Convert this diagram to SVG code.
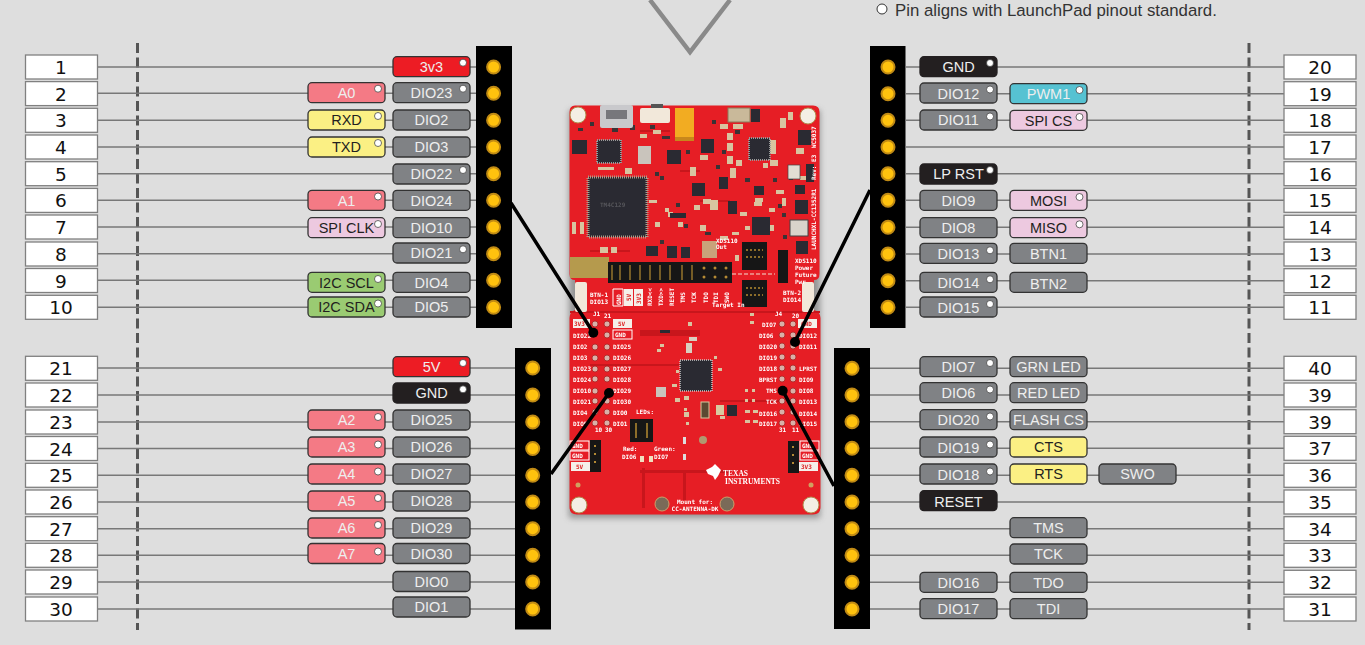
<svg xmlns="http://www.w3.org/2000/svg" width="1365" height="645" viewBox="0 0 1365 645">
<style>
.w{stroke:#787878;stroke-width:1.5;fill:none}
.dash{stroke:#555;stroke-width:3;stroke-dasharray:10 4.5;fill:none}
.lead{stroke:#000;stroke-width:3.5;fill:none}
.dot{fill:#000}
.num rect{fill:#fff;stroke:#808080;stroke-width:1.3}
.num text{font-family:"DejaVu Sans",sans-serif;font-size:18.5px;fill:#111;text-anchor:middle}
.strip{fill:#000}
.po{fill:#ffc20e;stroke:#c08a14;stroke-width:2}
.p rect{stroke:#333;stroke-width:1.3}
.p text{font-family:"Liberation Sans",Arial,sans-serif;font-size:14.5px;text-anchor:middle;fill:#eee}
.p circle{fill:#fff;stroke:#333;stroke-width:.7}
.red rect{fill:#ed1c24}
.blk rect{fill:#231f20;stroke:#231f20}
.gry rect{fill:#808285}
.ana rect{fill:#f47a85}
.yel rect{fill:#fbf084}
.pnk rect{fill:#edc9e0}
.grn rect{fill:#9acb72}
.cyn rect{fill:#56c2d2}
.yel text,.pnk text,.grn text{fill:#231f20}
.s{font-family:"DejaVu Sans Mono","Liberation Mono",monospace;font-size:6px;font-weight:bold;fill:#fff}
.sm{text-anchor:middle}
.ic{fill:#2b2b30}
.hd{fill:#151515}
.hole{fill:#f4efe4;stroke:#b08a4c;stroke-width:1}
.ph{fill:#d9b0a8;stroke:#a8201f;stroke-width:.8}
.tag{fill:#f5f0ea}
.tr{fill:#c8141c}
.cap{fill:#d8c4a0}
.res{fill:#3a3034}
</style>
<defs>
<filter id="sh" x="-10%" y="-10%" width="120%" height="120%"><feGaussianBlur stdDeviation="3"/></filter>
<filter id="soft" x="-5%" y="-5%" width="110%" height="110%"><feGaussianBlur stdDeviation="0.45"/></filter>
</defs>
<rect width="1365" height="645" fill="#dedede"/>
<path d="M650 0L690 52L730 0" fill="none" stroke="#8a8a8a" stroke-width="4.5"/>
<g id="legend"><circle cx="882" cy="9" r="5" fill="#fff" stroke="#333" stroke-width="1"/><text x="895" y="16" font-family="Liberation Sans, Arial, sans-serif" font-size="16.8" fill="#333">Pin aligns with LaunchPad pinout standard.</text></g>
<g id="board">
<path d="M569 518H820V110H569Z" fill="#555" opacity=".55" filter="url(#sh)"/>
<path d="M575 105.500H813Q819.500 105.500 819.500 112V274Q819.500 280 814 280V310Q820.500 312 820.500 318V507Q820.500 514.500 813 514.500H577Q569.500 514.500 569.500 507V318Q569.500 312 575 310V280Q569.500 280 569.500 274V112Q569.500 105.500 575 105.500Z" fill="#e61e25"/>
<g filter="url(#soft)">
<rect class="tr" x="570" y="311" width="250" height="2"/><path class="tr" d="M640 330h60v6h-60zM640 470h90v3h-90zM590 364h90v2h-90zM720 400h60v2h-60zM642 468h3v40h-3zM683 470h3v30h-3z"/>
<path class="tr" d="M590 250h40v2h-40zM700 200h30v2h-30zM680 170h20v2h-20zM640 130h30v2h-30z"/>
<path class="cap" d="M720 124h8v5h-8zM733 124h10v5h-10zM727 133h6v7h-6zM727 143h6v8h-6zM727 156h6v8h-6zM736 160h6v6h-6zM730 168h6v10h-6zM690 167h6v9h-6zM700 155h8v5h-8zM653 130h8v4h-8zM640 134h7v4h-7zM625 168h7v6h-7zM598 167h16v3h-16zM770 140h6v14h-6zM770 160h8v6h-8zM780 118h6v10h-6zM788 112h5v8h-5zM796 148h8v6h-8zM803 130h5v12h-5zM800 176h6v4h-6zM763 163h5v5h-5zM755 198h8v4h-8zM720 236h8v4h-8zM700 225h6v6h-6zM703 199h8v5h-8zM694 205h6v5h-6zM710 200h8v10h-8zM769 208h6v4h-6zM768 225h6v6h-6zM745 226h5v4h-5zM740 212h7v4h-7zM732 232h7v3h-7zM754 202h8v4h-8zM776 190h8v4h-8zM782 198h4v8h-4zM640 193h4v4h-4zM649 200h8v3h-8zM668 212h5v5h-5zM678 222h5v5h-5zM655 222h5v5h-5zM665 208h4v4h-4zM572 222h4v12h-4zM580 222h4v12h-4zM600 247h8v6h-8zM611 247h6v6h-6zM735 255h4v6h-4z"/>
<path class="res" d="M578 128h5v3h-5zM590 122h4v4h-4zM612 128h6v4h-6zM630 125h5v5h-5zM650 125h5v4h-5zM662 136h8v3h-8zM686 150h4v4h-4zM712 120h4v4h-4zM735 130h5v4h-5zM722 150h4v4h-4zM655 172h4v4h-4zM660 176h4v4h-4zM676 203h4v4h-4zM684 224h4v4h-4zM716 165h4v4h-4zM745 178h5v4h-5zM705 232h6v3h-6zM773 178h4v4h-4zM789 176h4v4h-4zM782 213h4v4h-4zM783 235h4v4h-4zM778 204h4v4h-4zM660 240h4v4h-4z"/>
<path class="cap" d="M660 344h4v3h-4zM657 349h4v3h-4zM676 370h3v3h-3zM672 384h5v3h-5zM714 356h3v3h-3zM718 368h4v3h-4zM675 398h5v4h-5zM684 396h5v4h-5zM684 408h3v3h-3zM684 412h5v5h-5zM686 422h3v3h-3zM718 408h5v4h-5zM720 416h5v3h-5zM745 389h3v3h-3zM752 389h3v3h-3zM745 399h3v3h-3zM752 399h3v3h-3zM745 410h5v3h-5zM753 410h5v3h-5zM745 420h5v3h-5zM753 420h5v3h-5zM688 322h4v4h-4zM750 313h4v3h-4zM750 321h4v3h-4z"/>
<rect x="600" y="105" width="33" height="23" rx="2" fill="#c9c9cc"/><rect x="606" y="110" width="21" height="9" fill="#77777c"/>
<rect x="640" y="108" width="30" height="15" rx="2" fill="#f2e8da"/><rect x="651" y="104" width="12" height="4" fill="#555"/>
<rect x="675" y="108" width="19" height="33" fill="#f2ac24"/><rect x="675" y="137" width="19" height="4" fill="#c8871a"/>
<rect x="728" y="108" width="22" height="14" fill="#c9b99a" stroke="#8b7a5a"/><rect x="751" y="109" width="9" height="13" class="ic"/>
<rect x="588" y="177" width="59" height="60" class="ic" stroke="#b09a8a" stroke-width="3" stroke-dasharray="1 1"/>
<text class="s" x="600" y="207" style="fill:#55555c">TM4C129</text>
<rect x="597" y="140" width="24" height="23" class="ic" stroke="#999" stroke-width="2" stroke-dasharray="1 1"/>
<rect x="749" y="138" width="21" height="22" class="ic" stroke="#999" stroke-width="2" stroke-dasharray="1 1"/>
<rect x="572" y="140" width="15" height="14" class="ic"/><rect x="638" y="146" width="13" height="18" fill="#c9c4bc"/><rect x="667" y="150" width="14" height="14" class="ic"/><rect x="701" y="139" width="13" height="14" class="ic"/>
<rect x="692" y="183" width="13" height="13" class="ic"/><rect x="719" y="177" width="9" height="12" class="ic"/><rect x="754" y="186" width="10" height="9" class="ic"/><rect x="798" y="130" width="13" height="15" class="ic"/><rect x="795" y="185" width="10" height="9" class="ic"/><rect x="795" y="200" width="13" height="14" class="ic"/><rect x="752" y="217" width="18" height="18" class="ic"/><rect x="790" y="220" width="18" height="16" fill="#d9d4cb" stroke="#444"/><rect x="796" y="241" width="12" height="13" class="ic"/><rect x="728" y="201" width="9" height="13" class="ic"/><rect x="670" y="213" width="16" height="5" class="ic"/>
<rect x="788" y="165" width="12" height="14" fill="#e2ddd4" stroke="#444" stroke-width=".7"/><rect x="806" y="164" width="8" height="18" class="ic"/>
<rect x="702" y="241" width="15" height="17" fill="#c9a27a"/><rect x="646" y="246" width="12" height="10" class="ic"/><rect x="667" y="246" width="10" height="12" class="ic"/><rect x="681" y="247" width="9" height="11" class="ic"/>
<rect x="570" y="257" width="39" height="21" fill="#b59a4e"/>
<rect x="608" y="262" width="124" height="21" class="hd"/>
<path d="M612 265v15M620 265v15M630 265v15M640 265v15M650 265v15M660 265v15M670 265v15M682 265v15M692 265v15" stroke="#b48a34" stroke-width="1.2"/>
<circle cx="704" cy="268" r="1.5" fill="#b48a34"/><circle cx="704" cy="277" r="1.5" fill="#b48a34"/><circle cx="715" cy="268" r="1.5" fill="#b48a34"/><circle cx="715" cy="277" r="1.5" fill="#b48a34"/><circle cx="726" cy="268" r="1.500" fill="#b48a34"/><circle cx="726" cy="277" r="1.500" fill="#b48a34"/>
<path d="M732 274H775" stroke="#f0e0d0" stroke-dasharray="4 2" fill="none"/>
<rect x="742" y="242" width="25" height="28" class="hd"/><rect x="742" y="280" width="25" height="27" class="hd"/>
<path d="M746 250h17M746 257h17M746 288h17M746 295h17" stroke="#b48a34" stroke-width="1.500" stroke-dasharray="2 2"/>
<rect x="778" y="250" width="10" height="33" class="hd"/>
<rect x="575" y="282" width="12" height="30" rx="2" fill="#f2e8da"/><rect x="802" y="282" width="12" height="30" rx="2" fill="#f2e8da"/>
<circle class="hole" cx="578" cy="115" r="8"/><circle class="hole" cx="808" cy="116" r="8"/>
<text class="s" x="590" y="297">BTN-1</text><text class="s" x="590" y="304">DIO13</text>
<text class="s" x="783" y="295">BTN-2</text><text class="s" x="783" y="302">DIO14</text>
<text class="s" x="716" y="243">XDS110</text><text class="s" x="716" y="249">Out</text>
<text class="s" x="795" y="263">XDS110</text><text class="s" x="795" y="270">Power</text><text class="s" x="795" y="277">Future</text><text class="s" x="795" y="284">Pwr</text>
<text class="s" x="712" y="307">Target In</text>
<text class="s" transform="translate(816 250) rotate(-90)">LAUNCHXL-CC1352R1</text><text class="s" transform="translate(816 180) rotate(-90)">Rev: E3</text><text class="s" transform="translate(816 148) rotate(-90)">WC5037</text>
<path d="M613 289h10v17h-10z" style="fill:#e61e25;stroke:#fff"/><path class="tag" d="M624 289h9v17h-9zM634 289h9v17h-9z"/>
<text class="s" transform="translate(620.500 305) rotate(-90)">GND</text><text class="s" transform="translate(631 301) rotate(-90)" style="fill:#d22">5V</text><text class="s" transform="translate(641 304) rotate(-90)" style="fill:#d22">3V3</text>
<text class="s" transform="translate(652 306) rotate(-90)">RXD&lt;&lt;</text><text class="s" transform="translate(663 306) rotate(-90)">TXD&gt;&gt;</text><text class="s" transform="translate(674 306) rotate(-90)">RESET</text><text class="s" transform="translate(685 303) rotate(-90)">TMS</text><text class="s" transform="translate(696 303) rotate(-90)">TCK</text><text class="s" transform="translate(708 303) rotate(-90)">TDO</text><text class="s" transform="translate(718 303) rotate(-90)">TDI</text><text class="s" transform="translate(729 303) rotate(-90)">SWO</text>
<rect x="680" y="360" width="32" height="31" class="ic" stroke="#ccc" stroke-width="1.500" stroke-dasharray="1 1"/>
<rect x="660" y="330" width="10" height="3" class="ic"/><rect x="689" y="337" width="8" height="4" fill="#d8d0c0"/><rect x="686" y="343" width="6" height="10" fill="#d8d0c0"/><rect x="656" y="387" width="10" height="10" fill="#c9c4bc"/>
<rect x="701" y="402" width="8" height="16" fill="#5c4a30" stroke="#d8c9a0"/><rect x="727" y="405" width="10" height="11" class="ic"/><rect x="716" y="405" width="8" height="10" fill="#d8c9a0"/>
<rect x="630" y="419" width="23" height="23" class="hd"/><path d="M636 423v15M647 423v15" stroke="#b48a34" stroke-width="1.500"/>
<rect x="590" y="440" width="11" height="32" class="hd"/><rect x="788" y="441" width="11" height="32" class="hd"/>
<path d="M595 445v22M793 446v22" stroke="#b48a34" stroke-width="2" stroke-dasharray="2 6"/>
<rect x="640" y="456" width="4" height="6" fill="#f0e0c0"/><rect x="649" y="456" width="4" height="6" fill="#f0e0c0"/>
<rect x="683" y="437" width="3" height="7" fill="#ddd"/><rect x="683" y="454" width="3" height="6" fill="#ddd"/><circle cx="703" cy="440" r="4" fill="#b09a70"/>
<path d="M706 470l6-3 3-3 3 3 3 3-3 6-3 4-2-4-5-2z" fill="#fff"/>
<text x="723" y="476" font-family="Liberation Serif, serif" font-size="7.500" font-weight="bold" fill="#fff">TEXAS</text><text x="725" y="484" font-family="Liberation Serif, serif" font-size="7.500" font-weight="bold" fill="#fff">INSTRUMENTS</text>
<circle class="hole" cx="579" cy="505" r="8"/><circle class="hole" cx="811" cy="505" r="8"/><circle cx="662" cy="504" r="7" fill="#7a6a58" stroke="#c9a06a"/><circle cx="727" cy="504" r="7" fill="#7a6a58" stroke="#c9a06a"/><circle cx="578" cy="485" r="2.500" fill="#d0a060"/><circle cx="811" cy="485" r="2.500" fill="#d0a060"/>
<text class="s sm" x="695" y="504">Mount for:</text><text class="s sm" x="695" y="511">CC-ANTENNA-DK</text>
<text class="s sm" x="645" y="414">LEDs:</text><text class="s" x="623" y="451">Red:</text><text class="s" x="622" y="459">DIO6</text><text class="s" x="654" y="451">Green:</text><text class="s" x="654" y="459">DIO7</text>
<rect x="573" y="319" width="17" height="9" class="tag"/><text class="s" x="574" y="326" style="fill:#d22">3V3</text>
<rect x="613" y="319" width="19" height="9" class="tag"/><text class="s" x="618" y="326" style="fill:#d22">5V</text>
<rect x="613" y="330" width="19" height="9" style="fill:#e61e25;stroke:#fff"/><text class="s" x="615" y="337">GND</text>
<g>
<text class="s" x="573" y="338">DIO22</text><text class="s" x="573" y="349">DIO2</text><text class="s" x="573" y="360">DIO3</text><text class="s" x="573" y="371">DIO23</text><text class="s" x="573" y="382">DIO24</text><text class="s" x="573" y="393">DIO10</text><text class="s" x="573" y="404">DIO21</text><text class="s" x="573" y="415">DIO4</text><text class="s" x="573" y="426">DIO5</text>
<text class="s" x="613" y="349">DIO25</text><text class="s" x="613" y="360">DIO26</text><text class="s" x="613" y="371">DIO27</text><text class="s" x="613" y="382">DIO28</text><text class="s" x="613" y="393">DIO29</text><text class="s" x="613" y="404">DIO30</text><text class="s" x="613" y="415">DIO0</text><text class="s" x="613" y="426">DIO1</text>
<text class="s" x="762" y="327">DIO7</text><text class="s" x="759" y="338">DIO6</text><text class="s" x="759" y="349">DIO20</text><text class="s" x="759" y="360">DIO19</text><text class="s" x="759" y="371">DIO18</text><text class="s" x="759" y="382">BPRST</text><text class="s" x="766" y="393">TMS</text><text class="s" x="766" y="404">TCK</text><text class="s" x="759" y="416">DIO16</text><text class="s" x="759" y="426">DIO17</text>
<rect x="798" y="319" width="19" height="9" class="tag"/><text class="s" x="801" y="326" style="fill:#d22">GND</text>
<text class="s" x="799" y="338">DIO12</text><text class="s" x="799" y="349">DIO11</text><text class="s" x="799" y="371">LPRST</text><text class="s" x="799" y="382">DIO9</text><text class="s" x="799" y="393">DIO8</text><text class="s" x="799" y="404">DIO13</text><text class="s" x="799" y="416">DIO14</text><text class="s" x="799" y="426">DIO15</text>
<rect x="570" y="441" width="19" height="9" style="fill:#e61e25;stroke:#fff"/><text class="s" x="572" y="448">GND</text>
<rect x="570" y="451" width="19" height="9" style="fill:#e61e25;stroke:#fff"/><text class="s" x="572" y="458">GND</text>
<rect x="571" y="462" width="19" height="9" class="tag"/><text class="s" x="576" y="469" style="fill:#d22">5V</text>
<rect x="800" y="441" width="19" height="9" style="fill:#e61e25;stroke:#fff"/><text class="s" x="802" y="448">GND</text>
<rect x="800" y="451" width="19" height="9" style="fill:#e61e25;stroke:#fff"/><text class="s" x="802" y="458">GND</text>
<rect x="799" y="462" width="19" height="9" class="tag"/><text class="s" x="801" y="469" style="fill:#d22">3V3</text>
</g>
<g>
<circle class="ph" cx="595" cy="324" r="3"/><circle class="ph" cx="607" cy="324" r="3"/><circle class="ph" cx="607" cy="335" r="3"/><circle class="ph" cx="595" cy="347" r="3"/><circle class="ph" cx="607" cy="347" r="3"/><circle class="ph" cx="595" cy="358" r="3"/><circle class="ph" cx="607" cy="358" r="3"/><circle class="ph" cx="595" cy="369" r="3"/><circle class="ph" cx="607" cy="369" r="3"/><circle class="ph" cx="595" cy="379" r="3"/><circle class="ph" cx="607" cy="379" r="3"/><circle class="ph" cx="595" cy="391" r="3"/><circle class="ph" cx="595" cy="401" r="3"/><circle class="ph" cx="607" cy="401" r="3"/><circle class="ph" cx="595" cy="412" r="3"/><circle class="ph" cx="607" cy="412" r="3"/><circle class="ph" cx="595" cy="423" r="3"/><circle class="ph" cx="607" cy="423" r="3"/>
<circle class="ph" cx="782" cy="324" r="3"/><circle class="ph" cx="793" cy="324" r="3"/><circle class="ph" cx="782" cy="335" r="3"/><circle class="ph" cx="793" cy="335" r="3"/><circle class="ph" cx="782" cy="346" r="3"/><circle class="ph" cx="793" cy="346" r="3"/><circle class="ph" cx="782" cy="357" r="3"/><circle class="ph" cx="793" cy="357" r="3"/><circle class="ph" cx="782" cy="368" r="3"/><circle class="ph" cx="793" cy="368" r="3"/><circle class="ph" cx="782" cy="379" r="3"/><circle class="ph" cx="793" cy="379" r="3"/><circle class="ph" cx="793" cy="391" r="3"/><circle class="ph" cx="782" cy="401" r="3"/><circle class="ph" cx="793" cy="401" r="3"/><circle class="ph" cx="782" cy="412" r="3"/><circle class="ph" cx="793" cy="412" r="3"/><circle class="ph" cx="782" cy="423" r="3"/><circle class="ph" cx="793" cy="423" r="3"/>
</g>
<text class="s" x="593" y="316">J1</text><text class="s" x="604" y="318">21</text><text class="s" x="775" y="316">J4</text><text class="s" x="792" y="318">20</text><text class="s" x="595" y="432">10</text><text class="s" x="605" y="432">30</text><text class="s" x="779" y="432">31</text><text class="s" x="792" y="432">11</text>
</g>
</g>
<g id="connectors">
<path class="dash" d="M137.500 43V630M1249 43V630"/>
<path class="w" d="M97 67H476M97 93.300H476M97 120.300H476M97 147H476M97 173.700H476M97 200.300H476M97 227H476M97 253.700H476M97 280.300H476M97 307.300H476"/>
<path class="w" d="M97 368H515M97 395H515M97 422H515M97 448.500H515M97 475.300H515M97 502H515M97 528.700H515M97 555.300H515M97 582H515M97 609H515"/>
<path class="w" d="M906 67H1284M906 93.700H1284M906 120.300H1284M906 147H1284M906 173.700H1284M906 200.300H1284M906 227.300H1284M906 254H1284M906 280.700H1284M906 307.300H1284"/>
<path class="w" d="M870 368.300H1284M870 395H1284M870 421.700H1284M870 448.300H1284M870 475.300H1284M870 502H1284M870 528.700H1284M870 555.300H1284M870 582.300H1284M870 609H1284"/>
<path class="lead" d="M511 203L593.300 332.700M551 474L609 393M870 190L795 342M834 486L782.700 390.700"/>
<circle class="dot" cx="593.300" cy="332.700" r="5"/><circle class="dot" cx="609" cy="393" r="5"/><circle class="dot" cx="795" cy="342" r="5"/><circle class="dot" cx="782.700" cy="390.700" r="5"/>
</g>
<g id="headers">
<rect class="strip" x="476" y="46" width="36" height="282"/><rect class="strip" x="515" y="348" width="36" height="281.500"/><rect class="strip" x="870" y="46" width="35.500" height="282"/><rect class="strip" x="834" y="348" width="36" height="281"/>
<circle class="po" cx="493.600" cy="67" r="6.500"/><circle class="po" cx="493.600" cy="93.300" r="6.500"/><circle class="po" cx="493.600" cy="120.300" r="6.500"/><circle class="po" cx="493.600" cy="147" r="6.500"/><circle class="po" cx="493.600" cy="173.700" r="6.500"/><circle class="po" cx="493.600" cy="200.300" r="6.500"/><circle class="po" cx="493.600" cy="227" r="6.500"/><circle class="po" cx="493.600" cy="253.700" r="6.500"/><circle class="po" cx="493.600" cy="280.300" r="6.500"/><circle class="po" cx="493.600" cy="307.300" r="6.500"/>
<circle class="po" cx="532.700" cy="368" r="6.500"/><circle class="po" cx="532.700" cy="395" r="6.500"/><circle class="po" cx="532.700" cy="422" r="6.500"/><circle class="po" cx="532.700" cy="448.500" r="6.500"/><circle class="po" cx="532.700" cy="475.300" r="6.500"/><circle class="po" cx="532.700" cy="502" r="6.500"/><circle class="po" cx="532.700" cy="528.700" r="6.500"/><circle class="po" cx="532.700" cy="555.300" r="6.500"/><circle class="po" cx="532.700" cy="582" r="6.500"/><circle class="po" cx="532.700" cy="609" r="6.500"/>
<circle class="po" cx="888" cy="67" r="6.500"/><circle class="po" cx="888" cy="93.700" r="6.500"/><circle class="po" cx="888" cy="120.300" r="6.500"/><circle class="po" cx="888" cy="147" r="6.500"/><circle class="po" cx="888" cy="173.700" r="6.500"/><circle class="po" cx="888" cy="200.300" r="6.500"/><circle class="po" cx="888" cy="227.300" r="6.500"/><circle class="po" cx="888" cy="254" r="6.500"/><circle class="po" cx="888" cy="280.700" r="6.500"/><circle class="po" cx="888" cy="307.300" r="6.500"/>
<circle class="po" cx="852" cy="368.300" r="6.500"/><circle class="po" cx="852" cy="395" r="6.500"/><circle class="po" cx="852" cy="421.700" r="6.500"/><circle class="po" cx="852" cy="448.300" r="6.500"/><circle class="po" cx="852" cy="475.300" r="6.500"/><circle class="po" cx="852" cy="502" r="6.500"/><circle class="po" cx="852" cy="528.700" r="6.500"/><circle class="po" cx="852" cy="555.300" r="6.500"/><circle class="po" cx="852" cy="582.300" r="6.500"/><circle class="po" cx="852" cy="609" r="6.500"/>
</g>
<g id="numbers" class="num">
<g id="n1"><rect x="25.500" y="55" width="72" height="24"/><text x="61" y="74">1</text></g>
<g id="n2"><rect x="25.500" y="81.600" width="72" height="24"/><text x="61" y="100.600">2</text></g>
<g id="n3"><rect x="25.500" y="108.300" width="72" height="24"/><text x="61" y="127.300">3</text></g>
<g id="n4"><rect x="25.500" y="135" width="72" height="24"/><text x="61" y="154">4</text></g>
<g id="n5"><rect x="25.500" y="161.700" width="72" height="24"/><text x="61" y="180.700">5</text></g>
<g id="n6"><rect x="25.500" y="188.400" width="72" height="24"/><text x="61" y="207.400">6</text></g>
<g id="n7"><rect x="25.500" y="215" width="72" height="24"/><text x="61" y="234">7</text></g>
<g id="n8"><rect x="25.500" y="242" width="72" height="24"/><text x="61" y="261">8</text></g>
<g id="n9"><rect x="25.500" y="268.500" width="72" height="24"/><text x="61" y="287.500">9</text></g>
<g id="n10"><rect x="25.500" y="295.300" width="72" height="24"/><text x="61" y="314.300">10</text></g>
<g id="n21"><rect x="25.500" y="356.300" width="72" height="24"/><text x="61" y="375.300">21</text></g>
<g id="n22"><rect x="25.500" y="383" width="72" height="24"/><text x="61" y="402">22</text></g>
<g id="n23"><rect x="25.500" y="410" width="72" height="24"/><text x="61" y="429">23</text></g>
<g id="n24"><rect x="25.500" y="436.500" width="72" height="24"/><text x="61" y="455.500">24</text></g>
<g id="n25"><rect x="25.500" y="463.300" width="72" height="24"/><text x="61" y="482.300">25</text></g>
<g id="n26"><rect x="25.500" y="490" width="72" height="24"/><text x="61" y="509">26</text></g>
<g id="n27"><rect x="25.500" y="516.700" width="72" height="24"/><text x="61" y="535.700">27</text></g>
<g id="n28"><rect x="25.500" y="543.300" width="72" height="24"/><text x="61" y="562.300">28</text></g>
<g id="n29"><rect x="25.500" y="570" width="72" height="24"/><text x="61" y="589">29</text></g>
<g id="n30"><rect x="25.500" y="597" width="72" height="24"/><text x="61" y="616">30</text></g>
<g id="n20"><rect x="1284" y="55" width="72" height="24"/><text x="1320" y="74">20</text></g>
<g id="n19"><rect x="1284" y="81.700" width="72" height="24"/><text x="1320" y="100.700">19</text></g>
<g id="n18"><rect x="1284" y="108.300" width="72" height="24"/><text x="1320" y="127.300">18</text></g>
<g id="n17"><rect x="1284" y="135" width="72" height="24"/><text x="1320" y="154">17</text></g>
<g id="n16"><rect x="1284" y="161.700" width="72" height="24"/><text x="1320" y="180.700">16</text></g>
<g id="n15"><rect x="1284" y="188.300" width="72" height="24"/><text x="1320" y="207.300">15</text></g>
<g id="n14"><rect x="1284" y="215.300" width="72" height="24"/><text x="1320" y="234.300">14</text></g>
<g id="n13"><rect x="1284" y="242" width="72" height="24"/><text x="1320" y="261">13</text></g>
<g id="n12"><rect x="1284" y="268.700" width="72" height="24"/><text x="1320" y="287.700">12</text></g>
<g id="n11"><rect x="1284" y="295.300" width="72" height="24"/><text x="1320" y="314.300">11</text></g>
<g id="n40"><rect x="1284" y="356.300" width="72" height="24"/><text x="1320" y="375.300">40</text></g>
<g id="n39a"><rect x="1284" y="383" width="72" height="24"/><text x="1320" y="402">39</text></g>
<g id="n39b"><rect x="1284" y="409.700" width="72" height="24"/><text x="1320" y="428.700">39</text></g>
<g id="n37"><rect x="1284" y="436.300" width="72" height="24"/><text x="1320" y="455.300">37</text></g>
<g id="n36"><rect x="1284" y="463.300" width="72" height="24"/><text x="1320" y="482.300">36</text></g>
<g id="n35"><rect x="1284" y="490" width="72" height="24"/><text x="1320" y="509">35</text></g>
<g id="n34"><rect x="1284" y="516.700" width="72" height="24"/><text x="1320" y="535.700">34</text></g>
<g id="n33"><rect x="1284" y="543.300" width="72" height="24"/><text x="1320" y="562.300">33</text></g>
<g id="n32"><rect x="1284" y="570.300" width="72" height="24"/><text x="1320" y="589.300">32</text></g>
<g id="n31"><rect x="1284" y="597" width="72" height="24"/><text x="1320" y="616">31</text></g>
</g>
<g id="labels" class="p">
<g id="l-3v3" class="red"><rect x="393" y="56.700" width="77" height="20" rx="4"/><text x="431.500" y="71.700">3v3</text><circle cx="463" cy="62.700" r="3.500"/></g>
<g id="l-a0" class="ana"><rect x="308" y="82.700" width="77" height="20" rx="4"/><text x="346.500" y="97.700">A0</text><circle cx="378" cy="88.700" r="3.500"/></g>
<g id="l-dio23" class="gry"><rect x="393" y="82.700" width="77" height="20" rx="4"/><text x="431.500" y="97.700">DIO23</text><circle cx="463" cy="88.700" r="3.500"/></g>
<g id="l-rxd" class="yel"><rect x="308" y="110" width="77" height="20" rx="4"/><text x="346.500" y="125">RXD</text><circle cx="378" cy="116" r="3.500"/></g>
<g id="l-dio2" class="gry"><rect x="393" y="110" width="77" height="20" rx="4"/><text x="431.500" y="125">DIO2</text></g>
<g id="l-txd" class="yel"><rect x="308" y="137" width="77" height="20" rx="4"/><text x="346.500" y="152">TXD</text><circle cx="378" cy="143" r="3.500"/></g>
<g id="l-dio3" class="gry"><rect x="393" y="137" width="77" height="20" rx="4"/><text x="431.500" y="152">DIO3</text></g>
<g id="l-dio22" class="gry"><rect x="393" y="164" width="77" height="20" rx="4"/><text x="431.500" y="179">DIO22</text><circle cx="463" cy="170" r="3.500"/></g>
<g id="l-a1" class="ana"><rect x="308" y="190.300" width="77" height="20" rx="4"/><text x="346.500" y="206">A1</text><circle cx="378" cy="196.500" r="3.500"/></g>
<g id="l-dio24" class="gry"><rect x="393" y="190.300" width="77" height="20" rx="4"/><text x="431.500" y="206">DIO24</text></g>
<g id="l-spiclk" class="pnk"><rect x="308" y="217.700" width="77" height="20" rx="4"/><text x="346.500" y="233">SPI CLK</text><circle cx="378" cy="224" r="3.500"/></g>
<g id="l-dio10" class="gry"><rect x="393" y="217.700" width="77" height="20" rx="4"/><text x="431.500" y="233">DIO10</text></g>
<g id="l-dio21" class="gry"><rect x="393" y="243" width="77" height="20" rx="4"/><text x="431.500" y="258">DIO21</text><circle cx="463" cy="249.300" r="3.500"/></g>
<g id="l-i2cscl" class="grn"><rect x="308" y="272.300" width="77" height="20" rx="4"/><text x="346.500" y="288">I2C SCL</text><circle cx="378" cy="279" r="3.500"/></g>
<g id="l-dio4" class="gry"><rect x="393" y="272.300" width="77" height="20" rx="4"/><text x="431.500" y="288">DIO4</text></g>
<g id="l-i2csda" class="grn"><rect x="308" y="297" width="77" height="20" rx="4"/><text x="346.500" y="312">I2C SDA</text><circle cx="378" cy="303.500" r="3.500"/></g>
<g id="l-dio5" class="gry"><rect x="393" y="297" width="77" height="20" rx="4"/><text x="431.500" y="312">DIO5</text></g>
<g id="l-5v" class="red"><rect x="393" y="356.700" width="77" height="20" rx="4"/><text x="431.500" y="372">5V</text><circle cx="463" cy="363" r="3.500"/></g>
<g id="l-gnd1" class="blk"><rect x="393" y="383" width="77" height="20" rx="4"/><text x="431.500" y="398">GND</text><circle cx="463" cy="389.300" r="3.500"/></g>
<g id="l-a2" class="ana"><rect x="308" y="410" width="77" height="20" rx="4"/><text x="346.500" y="425">A2</text><circle cx="378" cy="417" r="3.500"/></g>
<g id="l-dio25" class="gry"><rect x="393" y="410" width="77" height="20" rx="4"/><text x="431.500" y="425">DIO25</text></g>
<g id="l-a3" class="ana"><rect x="308" y="437" width="77" height="20" rx="4"/><text x="346.500" y="452">A3</text><circle cx="378" cy="444.500" r="3.500"/></g>
<g id="l-dio26" class="gry"><rect x="393" y="437" width="77" height="20" rx="4"/><text x="431.500" y="452">DIO26</text></g>
<g id="l-a4" class="ana"><rect x="308" y="464" width="77" height="20" rx="4"/><text x="346.500" y="479">A4</text><circle cx="378" cy="471.500" r="3.500"/></g>
<g id="l-dio27" class="gry"><rect x="393" y="464" width="77" height="20" rx="4"/><text x="431.500" y="479">DIO27</text></g>
<g id="l-a5" class="ana"><rect x="308" y="491" width="77" height="20" rx="4"/><text x="346.500" y="506">A5</text><circle cx="378" cy="498" r="3.500"/></g>
<g id="l-dio28" class="gry"><rect x="393" y="491" width="77" height="20" rx="4"/><text x="431.500" y="506">DIO28</text></g>
<g id="l-a6" class="ana"><rect x="308" y="518" width="77" height="20" rx="4"/><text x="346.500" y="533">A6</text><circle cx="378" cy="525" r="3.500"/></g>
<g id="l-dio29" class="gry"><rect x="393" y="518" width="77" height="20" rx="4"/><text x="431.500" y="533">DIO29</text></g>
<g id="l-a7" class="ana"><rect x="308" y="543.500" width="77" height="20" rx="4"/><text x="346.500" y="558.500">A7</text><circle cx="378" cy="551.500" r="3.500"/></g>
<g id="l-dio30" class="gry"><rect x="393" y="543.500" width="77" height="20" rx="4"/><text x="431.500" y="558.500">DIO30</text></g>
<g id="l-dio0" class="gry"><rect x="393" y="571.500" width="77" height="20" rx="4"/><text x="431.500" y="586.500">DIO0</text></g>
<g id="l-dio1" class="gry"><rect x="393" y="597" width="77" height="20" rx="4"/><text x="431.500" y="612">DIO1</text></g>
<g id="r-gnd" class="blk"><rect x="920" y="56.700" width="77" height="20" rx="4"/><text x="958.500" y="72">GND</text><circle cx="990" cy="63" r="3.500"/></g>
<g id="r-dio12" class="gry"><rect x="920" y="83" width="77" height="20" rx="4"/><text x="958.500" y="98.500">DIO12</text><circle cx="990" cy="89.500" r="3.500"/></g>
<g id="r-pwm1" class="cyn"><rect x="1010" y="83.700" width="77" height="20" rx="4"/><text x="1048.500" y="99">PWM1</text><circle cx="1079.500" cy="90" r="3.500"/></g>
<g id="r-dio11" class="gry"><rect x="920" y="110" width="77" height="20" rx="4"/><text x="958.500" y="125">DIO11</text><circle cx="990" cy="116.500" r="3.500"/></g>
<g id="r-spics" class="pnk"><rect x="1010" y="110.300" width="77" height="20" rx="4"/><text x="1048.500" y="125.500">SPI CS</text><circle cx="1079.500" cy="117" r="3.500"/></g>
<g id="r-lprst" class="blk"><rect x="920" y="164" width="77" height="20" rx="4"/><text x="958.500" y="179">LP RST</text><circle cx="990" cy="170" r="3.500"/></g>
<g id="r-dio9" class="gry"><rect x="920" y="190.300" width="77" height="20" rx="4"/><text x="958.500" y="205.500">DIO9</text></g>
<g id="r-mosi" class="pnk"><rect x="1010" y="190.300" width="77" height="20" rx="4"/><text x="1048.500" y="205.500">MOSI</text><circle cx="1079.500" cy="197" r="3.500"/></g>
<g id="r-dio8" class="gry"><rect x="920" y="217.700" width="77" height="20" rx="4"/><text x="958.500" y="233">DIO8</text></g>
<g id="r-miso" class="pnk"><rect x="1010" y="217.700" width="77" height="20" rx="4"/><text x="1048.500" y="233">MISO</text><circle cx="1079.500" cy="224.300" r="3.500"/></g>
<g id="r-dio13" class="gry"><rect x="920" y="243.300" width="77" height="20" rx="4"/><text x="958.500" y="258.500">DIO13</text><circle cx="990" cy="250.300" r="3.500"/></g>
<g id="r-btn1" class="gry"><rect x="1010" y="243.300" width="77" height="20" rx="4"/><text x="1048.500" y="258.500">BTN1</text></g>
<g id="r-dio14" class="gry"><rect x="920" y="272.300" width="77" height="20" rx="4"/><text x="958.500" y="288">DIO14</text><circle cx="990" cy="279.300" r="3.500"/></g>
<g id="r-btn2" class="gry"><rect x="1010" y="272.300" width="77" height="20" rx="4"/><text x="1048.500" y="288.500">BTN2</text></g>
<g id="r-dio15" class="gry"><rect x="920" y="297" width="77" height="20" rx="4"/><text x="958.500" y="312.500">DIO15</text><circle cx="990" cy="304" r="3.500"/></g>
<g id="r-dio7" class="gry"><rect x="920" y="356.700" width="77" height="20" rx="4"/><text x="958.500" y="372">DIO7</text><circle cx="990" cy="363" r="3.500"/></g>
<g id="r-grnled" class="gry"><rect x="1010" y="356.700" width="77" height="20" rx="4"/><text x="1048.500" y="372">GRN LED</text></g>
<g id="r-dio6" class="gry"><rect x="920" y="382.700" width="77" height="20" rx="4"/><text x="958.500" y="398">DIO6</text><circle cx="990" cy="389.500" r="3.500"/></g>
<g id="r-redled" class="gry"><rect x="1010" y="382.700" width="77" height="20" rx="4"/><text x="1048.500" y="398">RED LED</text></g>
<g id="r-dio20" class="gry"><rect x="920" y="409.700" width="77" height="20" rx="4"/><text x="958.500" y="425">DIO20</text><circle cx="990" cy="416.500" r="3.500"/></g>
<g id="r-flashcs" class="gry"><rect x="1010" y="409.700" width="77" height="20" rx="4"/><text x="1048.500" y="425">FLASH CS</text></g>
<g id="r-dio19" class="gry"><rect x="920" y="437" width="77" height="20" rx="4"/><text x="958.500" y="453">DIO19</text><circle cx="990" cy="444.500" r="3.500"/></g>
<g id="r-cts" class="yel"><rect x="1010" y="437" width="77" height="20" rx="4"/><text x="1048.500" y="451.500">CTS</text></g>
<g id="r-dio18" class="gry"><rect x="920" y="464" width="77" height="20" rx="4"/><text x="958.500" y="480">DIO18</text><circle cx="990" cy="471.500" r="3.500"/></g>
<g id="r-rts" class="yel"><rect x="1010" y="464" width="77" height="20" rx="4"/><text x="1048.500" y="478.500">RTS</text></g>
<g id="r-swo" class="gry"><rect x="1099" y="464" width="77" height="20" rx="4"/><text x="1137.500" y="478.500">SWO</text></g>
<g id="r-reset" class="blk"><rect x="920" y="490.700" width="77" height="20" rx="4"/><text x="958.500" y="507">RESET</text></g>
<g id="r-tms" class="gry"><rect x="1010" y="517.700" width="77" height="20" rx="4"/><text x="1048.500" y="533">TMS</text></g>
<g id="r-tck" class="gry"><rect x="1010" y="544" width="77" height="20" rx="4"/><text x="1048.500" y="559">TCK</text></g>
<g id="r-dio16" class="gry"><rect x="920" y="572.300" width="77" height="20" rx="4"/><text x="958.500" y="587.500">DIO16</text></g>
<g id="r-tdo" class="gry"><rect x="1010" y="572.300" width="77" height="20" rx="4"/><text x="1048.500" y="587.500">TDO</text></g>
<g id="r-dio17" class="gry"><rect x="920" y="598.700" width="77" height="20" rx="4"/><text x="958.500" y="614">DIO17</text></g>
<g id="r-tdi" class="gry"><rect x="1010" y="598.700" width="77" height="20" rx="4"/><text x="1048.500" y="614">TDI</text></g>
</g>
</svg>
